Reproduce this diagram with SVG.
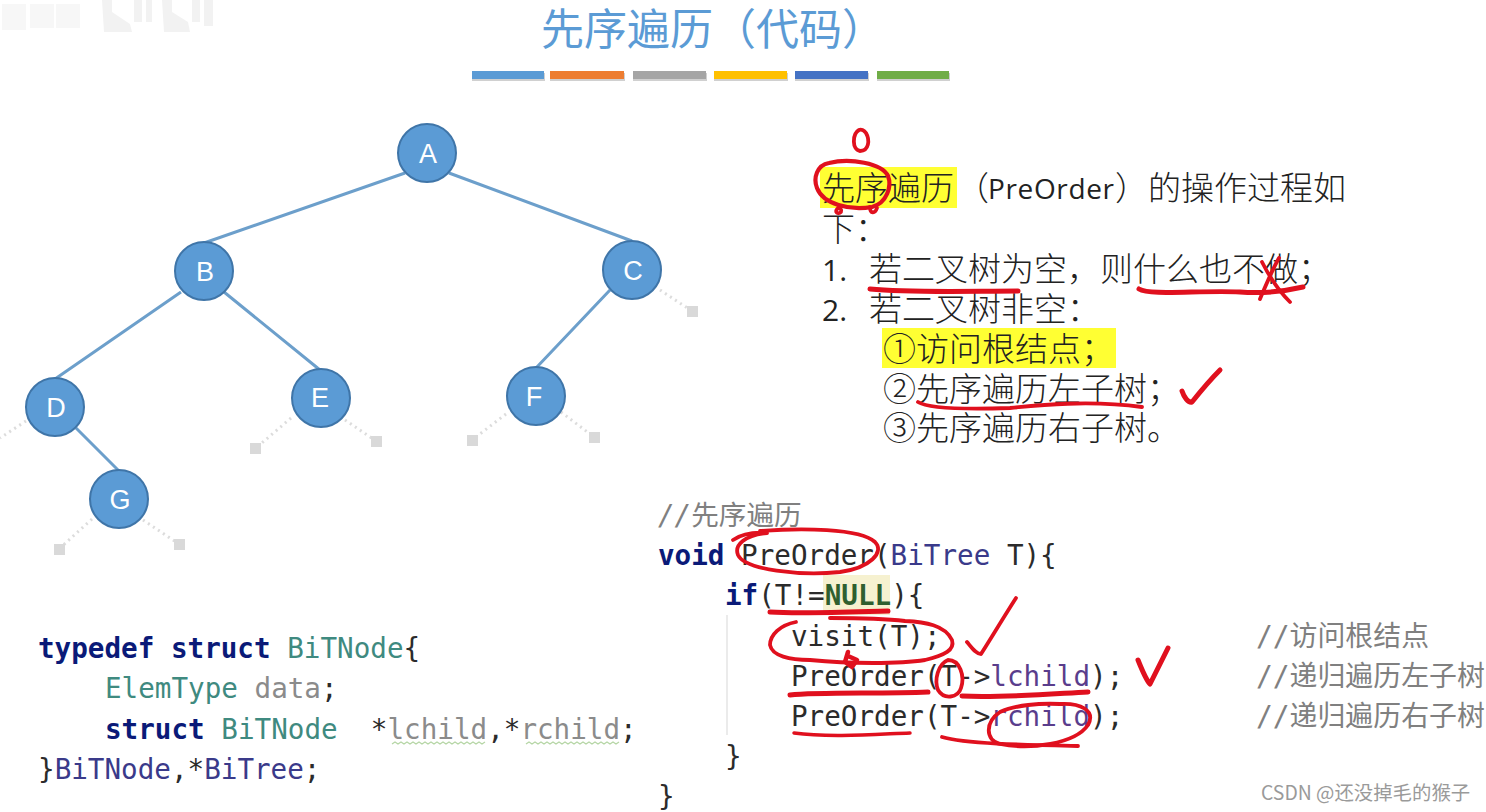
<svg xmlns="http://www.w3.org/2000/svg" width="1486" height="812" viewBox="0 0 1486 812">
<style>
.t{font-family:"Noto Sans CJK SC","Liberation Sans",sans-serif;font-size:33px;fill:#222;font-weight:300}
.l{font-family:"Open Sans","Noto Sans CJK SC",sans-serif;font-size:28px;fill:#222}
.m{font-family:"Open Sans",sans-serif;font-size:30px;fill:#222}
.c{font-family:"DejaVu Sans Mono","Noto Sans CJK SC",monospace;font-size:27.6px;fill:#2b2b2b;white-space:pre}
.k{font-weight:bold;fill:#0a1a78}
.ty{fill:#3f8a80}
.v{fill:#8b8b8b}
.p{fill:#5a3d8c}
.b{fill:#3a3a8a}
.g{fill:#808080}
.cm{font-size:27.9px}
.nd{fill:#5b9bd5;stroke:#3f75a8;stroke-width:2}
.lb{font-family:"Liberation Sans",sans-serif;font-size:27px;fill:#fff;text-anchor:middle}
.e{stroke:#6c9fcb;stroke-width:3;fill:none}
.d{stroke:#dcdcdc;stroke-width:3;stroke-dasharray:2 4;fill:none}
.n{fill:#d9d9d9}
.r{fill:none;stroke:#e0101e;stroke-width:3.8;stroke-linecap:round;stroke-linejoin:round}
.r2{fill:none;stroke:#e0101e;stroke-width:5;stroke-linecap:round;stroke-linejoin:round}
.s{fill:none;stroke:#b5d6a5;stroke-width:1.3}
</style>
<rect width="1486" height="812" fill="#fff"/>
<g fill="#f2f2f2">
<path d="M2 4H26V30H2ZM30 4H54V28H30ZM56 4H80V28H56Z" opacity=".6"/>
<path d="M102 0H112V12L130 24L132 32H104ZM134 0H142V22H134ZM146 0H152V22H146ZM162 0H172V12L188 22L190 32H164ZM192 0H200V22H192ZM204 0H213V26H204Z"/>
</g>
<text x="541" y="45" style="font-family:'Noto Sans CJK SC',sans-serif;font-size:43px;fill:#5b9bd5">先序遍历（代码）</text>
<g id="title-bars">
<rect x="472" y="73" width="73" height="8" fill="#d0d0d0"/><rect x="550" y="73" width="75" height="8" fill="#d0d0d0"/><rect x="633" y="73" width="74" height="8" fill="#d0d0d0"/><rect x="714" y="73" width="74" height="8" fill="#d0d0d0"/><rect x="795" y="73" width="74" height="8" fill="#d0d0d0"/><rect x="877" y="73" width="73" height="8" fill="#d0d0d0"/>
<rect x="472" y="71" width="72" height="8" fill="#5b9bd5"/><rect x="550" y="71" width="74" height="8" fill="#ed7d31"/><rect x="633" y="71" width="73" height="8" fill="#a5a5a5"/><rect x="714" y="71" width="73" height="8" fill="#ffc000"/><rect x="795" y="71" width="73" height="8" fill="#4472c4"/><rect x="877" y="71" width="72" height="8" fill="#70ad47"/>
</g>
<g id="connectors">
<path class="e" d="M405 173L204 243M449 173L632 241M181 292L55 379M224 292L320 370M610 290L536 368M76 428L119 471"/>
<path class="d" d="M660 290L692 311M291 418L256 448M345 420L376 441M506 414L472 440M561 412L594 437M26 421L0 438M92 519L59 549M143 520L179 544"/>
</g>
<g id="nodeA"><circle class="nd" cx="427" cy="153" r="29"/><text class="lb" x="428" y="163">A</text></g>
<g id="nodeB"><circle class="nd" cx="204" cy="271" r="29"/><text class="lb" x="205" y="281">B</text></g>
<g id="nodeC"><circle class="nd" cx="632" cy="270" r="29"/><text class="lb" x="633" y="280">C</text></g>
<g id="nodeD"><circle class="nd" cx="55" cy="407" r="29"/><text class="lb" x="56" y="417">D</text></g>
<g id="nodeE"><circle class="nd" cx="321" cy="398" r="29"/><text class="lb" x="320" y="407">E</text></g>
<g id="nodeF"><circle class="nd" cx="536" cy="396" r="29"/><text class="lb" x="534" y="406">F</text></g>
<g id="nodeG"><circle class="nd" cx="119" cy="499" r="29"/><text class="lb" x="120" y="509">G</text></g>
<g id="null1"><rect class="n" x="687" y="306" width="11" height="11"/></g>
<g id="null2"><rect class="n" x="250" y="443" width="11" height="11"/></g>
<g id="null3"><rect class="n" x="371" y="436" width="11" height="11"/></g>
<g id="null4"><rect class="n" x="467" y="435" width="11" height="11"/></g>
<g id="null5"><rect class="n" x="589" y="432" width="11" height="11"/></g>
<g id="null6"><rect class="n" x="54" y="544" width="11" height="11"/></g>
<g id="null7"><rect class="n" x="174" y="539" width="11" height="11"/></g>

<g id="steps">
<rect x="820" y="167" width="137" height="41" fill="#ffff33"/>
<rect x="882" y="328" width="234" height="40" fill="#ffff33"/>
<text class="t" x="822" y="200">先序遍历</text>
<text class="t" x="956" y="200">（</text><text class="l" x="988" y="199" textLength="126">PreOrder</text><text class="t" x="1115" y="200">）的操作过程如</text>
<text class="t" x="822" y="241">下：</text>
<text class="m" x="822" y="281">1.</text><text class="t" x="869" y="281">若二叉树为空，则什么也不做；</text>
<text class="m" x="822" y="321">2.</text><text class="t" x="869" y="321">若二叉树非空：</text>
<text class="t" x="883" y="361">①访问根结点；</text>
<text class="t" x="883" y="401">②先序遍历左子树；</text>
<text class="t" x="883" y="440">③先序遍历右子树。</text>
</g>

<g id="struct-code">
<text class="c" x="38" y="658"><tspan class="k">typedef struct</tspan> <tspan class="ty">BiTNode</tspan>{</text>
<text class="c" x="105" y="698"><tspan class="ty">ElemType</tspan> <tspan class="v">data</tspan>;</text>
<text class="c" x="105" y="739"><tspan class="k">struct</tspan> <tspan class="ty">BiTNode</tspan>  *<tspan class="v">lchild</tspan>,*<tspan class="v">rchild</tspan>;</text>
<text class="c" x="38" y="779">}<tspan class="b">BiTNode</tspan>,*<tspan class="b">BiTree</tspan>;</text>
<path class="s" d="M392 744l3-2 3 2 3-2 3 2 3-2 3 2 3-2 3 2 3-2 3 2 3-2 3 2 3-2 3 2 3-2 3 2 3-2 3 2 3-2 3 2 3-2 3 2 3-2 3 2 3-2 3 2 3-2 3 2 3-2 3 2 3-2M526 744l3-2 3 2 3-2 3 2 3-2 3 2 3-2 3 2 3-2 3 2 3-2 3 2 3-2 3 2 3-2 3 2 3-2 3 2 3-2 3 2 3-2 3 2 3-2 3 2 3-2 3 2 3-2 3 2 3-2 3 2 3-2"/>
</g>

<g id="preorder-code">
<rect x="823" y="575" width="67" height="40" fill="#f6f1d0"/>
<path d="M727 615V735" stroke="#e4e4e4" stroke-width="1.5"/>
<text class="c g" x="658" y="525"><tspan style="font-style:italic">//</tspan>先序遍历</text>
<text class="c" x="658" y="565"><tspan class="k">void</tspan> PreOrder(<tspan class="b">BiTree</tspan> T){</text>
<text class="c" x="725" y="605"><tspan class="k">if</tspan>(T!=<tspan style="font-weight:bold;fill:#2f5f2f">NULL</tspan>){</text>
<text class="c" x="791" y="646">visit(T);</text>
<text class="c" x="791" y="686">PreOrder(T-&gt;<tspan class="p">lchild</tspan>);</text>
<text class="c" x="791" y="726">PreOrder(T-&gt;<tspan class="p">rchild</tspan>);</text>
<text class="c" x="725" y="766">}</text>
<text class="c" x="658" y="806">}</text>
<text class="c g cm" x="1256" y="646">//访问根结点</text>
<text class="c g cm" x="1256" y="686">//递归遍历左子树</text>
<text class="c g cm" x="1256" y="726">//递归遍历右子树</text>
</g>

<g id="annotations">
<path class="r" d="M859 130C852 134 852 150 860 151C869 151 870 140 866 133C864 130 861 129 859 130Z"/>
<path class="r" style="stroke-width:4.2" d="M829 163C817 165 813 178 817 188C823 204 850 211 872 207C887 203 892 186 888 176C882 163 850 158 829 163Z"/>
<path class="r" d="M838 208C834 212 838 215 841 212C842 210 840 207 838 208ZM870 207C870 214 875 214 877 208"/>
<path class="r2" d="M870 289C910 293 970 291 1018 291"/>
<path class="r2" d="M1139 289C1150 296 1200 290 1240 292C1265 294 1290 290 1303 287"/>
<path class="r" d="M1279 258C1272 270 1266 285 1260 299M1262 262C1270 278 1280 292 1290 302"/>
<path class="r" d="M918 402C930 410 980 409 1010 408C1040 405 1090 400 1142 407"/>
<path class="r" style="stroke-width:5" d="M1182 391C1184 397 1188 403 1192 402C1200 392 1210 380 1220 370"/>
<path class="r" d="M733 540C742 534 755 532 767 533M760 531C800 528 860 528 875 542C885 552 870 568 840 572C800 576 745 570 738 555C734 545 745 535 767 533"/>
<path class="r2" d="M770 612C800 614 850 612 888 611"/>
<path class="r" d="M796 622C780 625 770 635 770 645C772 656 790 660 810 660C850 664 900 664 925 660C945 655 955 650 952 640C945 625 925 622 905 621C880 618 850 618 830 618"/>
<path class="r" style="stroke-width:4.5" d="M848 652L845 662L852 667L857 660L848 656"/>
<path class="r" d="M967 642C972 648 976 654 981 654C990 640 1005 615 1016 598"/>
<path class="r" d="M948 660C938 664 934 680 938 690C944 700 958 698 961 688C965 676 960 660 948 660Z"/>
<path class="r2" d="M790 695C820 692 880 694 928 692"/>
<path class="r2" d="M962 696C1000 698 1050 694 1088 692"/>
<path class="r" style="stroke-width:5" d="M1138 660C1142 670 1146 680 1150 684C1156 672 1162 660 1168 648"/>
<path class="r2" style="stroke-width:3.5" d="M794 733C830 738 880 734 910 733"/>
<path class="r" d="M1000 712C985 722 985 740 1000 744C1030 750 1075 744 1088 725C1096 710 1080 703 1060 704C1040 703 1015 705 1000 712Z"/>
<path class="r" d="M942 737C965 744 1030 745 1078 746"/>
</g>
<text x="1261" y="800" style="font-family:'Noto Sans CJK SC',sans-serif;font-size:19.4px;fill:#9a9a9a">CSDN @还没掉毛的猴子</text>
</svg>
